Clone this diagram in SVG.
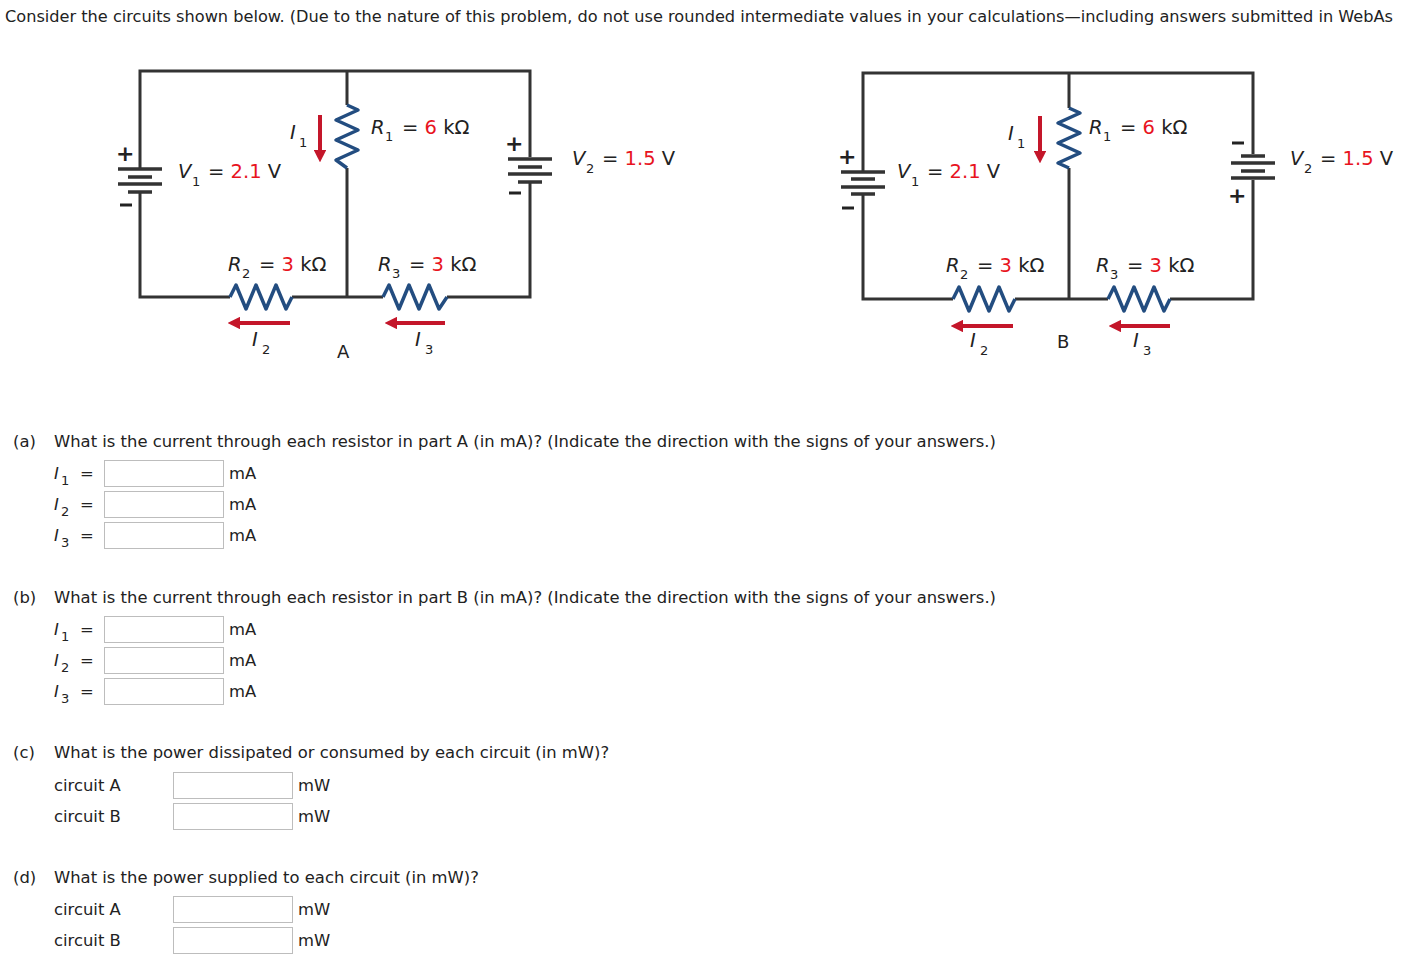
<svg xmlns="http://www.w3.org/2000/svg" width="1407" height="968" viewBox="0 0 1407 968">
<defs>
<style>
text{font-family:"DejaVu Sans",Verdana,sans-serif;fill:#222}
.t{font-size:16.4px}
.c{font-size:19.5px}
.r{fill:#e8141e}
.i{font-style:italic}
.s{font-size:13px}
.w{fill:none;stroke:#333;stroke-width:3}
.p{fill:none;stroke:#333;stroke-width:3.5}
.m{fill:none;stroke:#222;stroke-width:3}
.z{fill:none;stroke:#234d80;stroke-width:3.5;stroke-linejoin:round}
.a{stroke:#c4162a;stroke-width:4;fill:none}
.b{fill:#fff;stroke:#bdbdbd;stroke-width:1}
.pm{font-size:22px;font-weight:bold;fill:#222}
</style>
<marker id="ar" viewBox="0 0 10 10" refX="5" refY="5" markerWidth="3.2" markerHeight="3.2" orient="auto"><path d="M0,0L10,5L0,10z" fill="#c4162a"/></marker>
</defs>
<rect width="1407" height="968" fill="#fff"/>
<text class="t" x="5" y="22" textLength="1388" lengthAdjust="spacingAndGlyphs" style="font-size:16px">Consider the circuits shown below. (Due to the nature of this problem, do not use rounded intermediate values in your calculations—including answers submitted in WebAs</text>

<g id="circuitA">
<g id="wiresA">
<path class="w" d="M140,168V71H530V157M530,183V297H447M383,297H292M230,297H140V192M347,71V105M347,168V297"/>
</g>
<g id="V1A"><path class="p" d="M118,169H162M128,177H152M118,184H162M128,192H152"/>
<text class="pm" x="116" y="161">+</text><path class="m" d="M120,205H132"/>
<text class="c i" x="178" y="178">V</text><text class="s" x="192" y="186">1</text><text class="c" x="208" y="178">= <tspan class="r">2.1</tspan> V</text></g>
<g id="V2A"><path class="p" d="M508,159H552M518,167H542M508,174H552M518,182H542"/>
<text class="pm" x="505" y="151">+</text><path class="m" d="M509,193H521"/>
<text class="c i" x="572" y="165">V</text><text class="s" x="586" y="173">2</text><text class="c" x="602" y="165">= <tspan class="r">1.5</tspan> V</text></g>
<g id="R1A"><path class="z" d="M347,105L358,110L336,120L358,130L336,140L358,150L336,160L347,168"/>
<text class="c i" x="371" y="134">R</text><text class="s" x="385" y="141">1</text><text class="c" x="402" y="134">= <tspan class="r">6</tspan> kΩ</text></g>
<g id="R2A"><path class="z" d="M230,297L236,285L246,309L256,285L266,309L276,285L286,309L292,297"/>
<text class="c i" x="228" y="271">R</text><text class="s" x="242" y="278">2</text><text class="c" x="259" y="271">= <tspan class="r">3</tspan> kΩ</text></g>
<g id="R3A"><path class="z" d="M383,297L389,285L399,309L409,285L419,309L429,285L439,309L447,297"/>
<text class="c i" x="378" y="271">R</text><text class="s" x="392" y="278">3</text><text class="c" x="409" y="271">= <tspan class="r">3</tspan> kΩ</text></g>
<g id="I1A"><text class="c i" x="290" y="139">I</text><text class="s" x="299" y="147">1</text></g>
<g id="I2A"><text class="c i" x="252" y="346">I</text><text class="s" x="262" y="354">2</text></g>
<g id="I3A"><text class="c i" x="415" y="346">I</text><text class="s" x="425" y="354">3</text></g>
<text class="c" x="337" y="358" style="font-size:18px">A</text>
</g>

<g id="circuitB">
<g id="wiresB">
<path class="w" d="M863,171V73H1253V154M1253,180V299H1170M1108,299H1015M953,299H863V194M1069,73V108M1069,168V299"/>
</g>
<g id="V1B"><path class="p" d="M841,172H885M851,179H875M841,187H885M851,194H875"/>
<text class="pm" x="838" y="164">+</text><path class="m" d="M842,208H854"/>
<text class="c i" x="897" y="178">V</text><text class="s" x="911" y="186">1</text><text class="c" x="927" y="178">= <tspan class="r">2.1</tspan> V</text></g>
<g id="V2B"><path class="p" d="M1241,156H1265M1231,163H1275M1241,171H1265M1231,178H1275"/>
<path class="m" d="M1232,143H1244"/><text class="pm" x="1228" y="203">+</text>
<text class="c i" x="1290" y="165">V</text><text class="s" x="1304" y="173">2</text><text class="c" x="1320" y="165">= <tspan class="r">1.5</tspan> V</text></g>
<g id="R1B"><path class="z" d="M1069,108L1080,113L1058,123L1080,133L1058,143L1080,153L1058,163L1069,168"/>
<text class="c i" x="1089" y="134">R</text><text class="s" x="1103" y="141">1</text><text class="c" x="1120" y="134">= <tspan class="r">6</tspan> kΩ</text></g>
<g id="R2B"><path class="z" d="M953,299L959,287L969,311L979,287L989,311L999,287L1009,311L1015,299"/>
<text class="c i" x="946" y="272">R</text><text class="s" x="960" y="279">2</text><text class="c" x="977" y="272">= <tspan class="r">3</tspan> kΩ</text></g>
<g id="R3B"><path class="z" d="M1108,299L1114,287L1124,311L1134,287L1144,311L1154,287L1164,311L1170,299"/>
<text class="c i" x="1096" y="272">R</text><text class="s" x="1110" y="279">3</text><text class="c" x="1127" y="272">= <tspan class="r">3</tspan> kΩ</text></g>
<g id="I1B"><text class="c i" x="1008" y="140">I</text><text class="s" x="1017" y="148">1</text></g>
<g id="I2B"><text class="c i" x="970" y="347">I</text><text class="s" x="980" y="355">2</text></g>
<g id="I3B"><text class="c i" x="1133" y="347">I</text><text class="s" x="1143" y="355">3</text></g>
<text class="c" x="1057" y="348" style="font-size:18px">B</text>
</g>

<g id="connectors">
<path class="a" marker-end="url(#ar)" d="M320,115V156"/>
<path class="a" marker-end="url(#ar)" d="M290,323H234"/>
<path class="a" marker-end="url(#ar)" d="M445,323H391"/>
<path class="a" marker-end="url(#ar)" d="M1040,116V157"/>
<path class="a" marker-end="url(#ar)" d="M1013,326H957"/>
<path class="a" marker-end="url(#ar)" d="M1170,326H1115"/>
</g>

<g id="questions">
<text class="t" x="13" y="447">(a)</text><text class="t" x="54" y="447">What is the current through each resistor in part A (in mA)? (Indicate the direction with the signs of your answers.)</text>
<text class="t i" x="54" y="479">I</text><text class="s" x="61" y="485">1</text><text class="t" x="80" y="479">=</text><rect class="b" x="104.5" y="460.5" width="119" height="26"/><text class="t" x="229" y="479">mA</text>
<text class="t i" x="54" y="510">I</text><text class="s" x="61" y="516">2</text><text class="t" x="80" y="510">=</text><rect class="b" x="104.5" y="491.5" width="119" height="26"/><text class="t" x="229" y="510">mA</text>
<text class="t i" x="54" y="541">I</text><text class="s" x="61" y="547">3</text><text class="t" x="80" y="541">=</text><rect class="b" x="104.5" y="522.5" width="119" height="26"/><text class="t" x="229" y="541">mA</text>

<text class="t" x="13" y="603">(b)</text><text class="t" x="54" y="603">What is the current through each resistor in part B (in mA)? (Indicate the direction with the signs of your answers.)</text>
<text class="t i" x="54" y="635">I</text><text class="s" x="61" y="641">1</text><text class="t" x="80" y="635">=</text><rect class="b" x="104.5" y="616.5" width="119" height="26"/><text class="t" x="229" y="635">mA</text>
<text class="t i" x="54" y="666">I</text><text class="s" x="61" y="672">2</text><text class="t" x="80" y="666">=</text><rect class="b" x="104.5" y="647.5" width="119" height="26"/><text class="t" x="229" y="666">mA</text>
<text class="t i" x="54" y="697">I</text><text class="s" x="61" y="703">3</text><text class="t" x="80" y="697">=</text><rect class="b" x="104.5" y="678.5" width="119" height="26"/><text class="t" x="229" y="697">mA</text>

<text class="t" x="13" y="758">(c)</text><text class="t" x="54" y="758">What is the power dissipated or consumed by each circuit (in mW)?</text>
<text class="t" x="54" y="791">circuit A</text><rect class="b" x="173.5" y="772.5" width="119" height="26"/><text class="t" x="298" y="791">mW</text>
<text class="t" x="54" y="822">circuit B</text><rect class="b" x="173.5" y="803.5" width="119" height="26"/><text class="t" x="298" y="822">mW</text>

<text class="t" x="13" y="883">(d)</text><text class="t" x="54" y="883">What is the power supplied to each circuit (in mW)?</text>
<text class="t" x="54" y="915">circuit A</text><rect class="b" x="173.5" y="896.5" width="119" height="26"/><text class="t" x="298" y="915">mW</text>
<text class="t" x="54" y="946">circuit B</text><rect class="b" x="173.5" y="927.5" width="119" height="26"/><text class="t" x="298" y="946">mW</text>
</g>
</svg>
